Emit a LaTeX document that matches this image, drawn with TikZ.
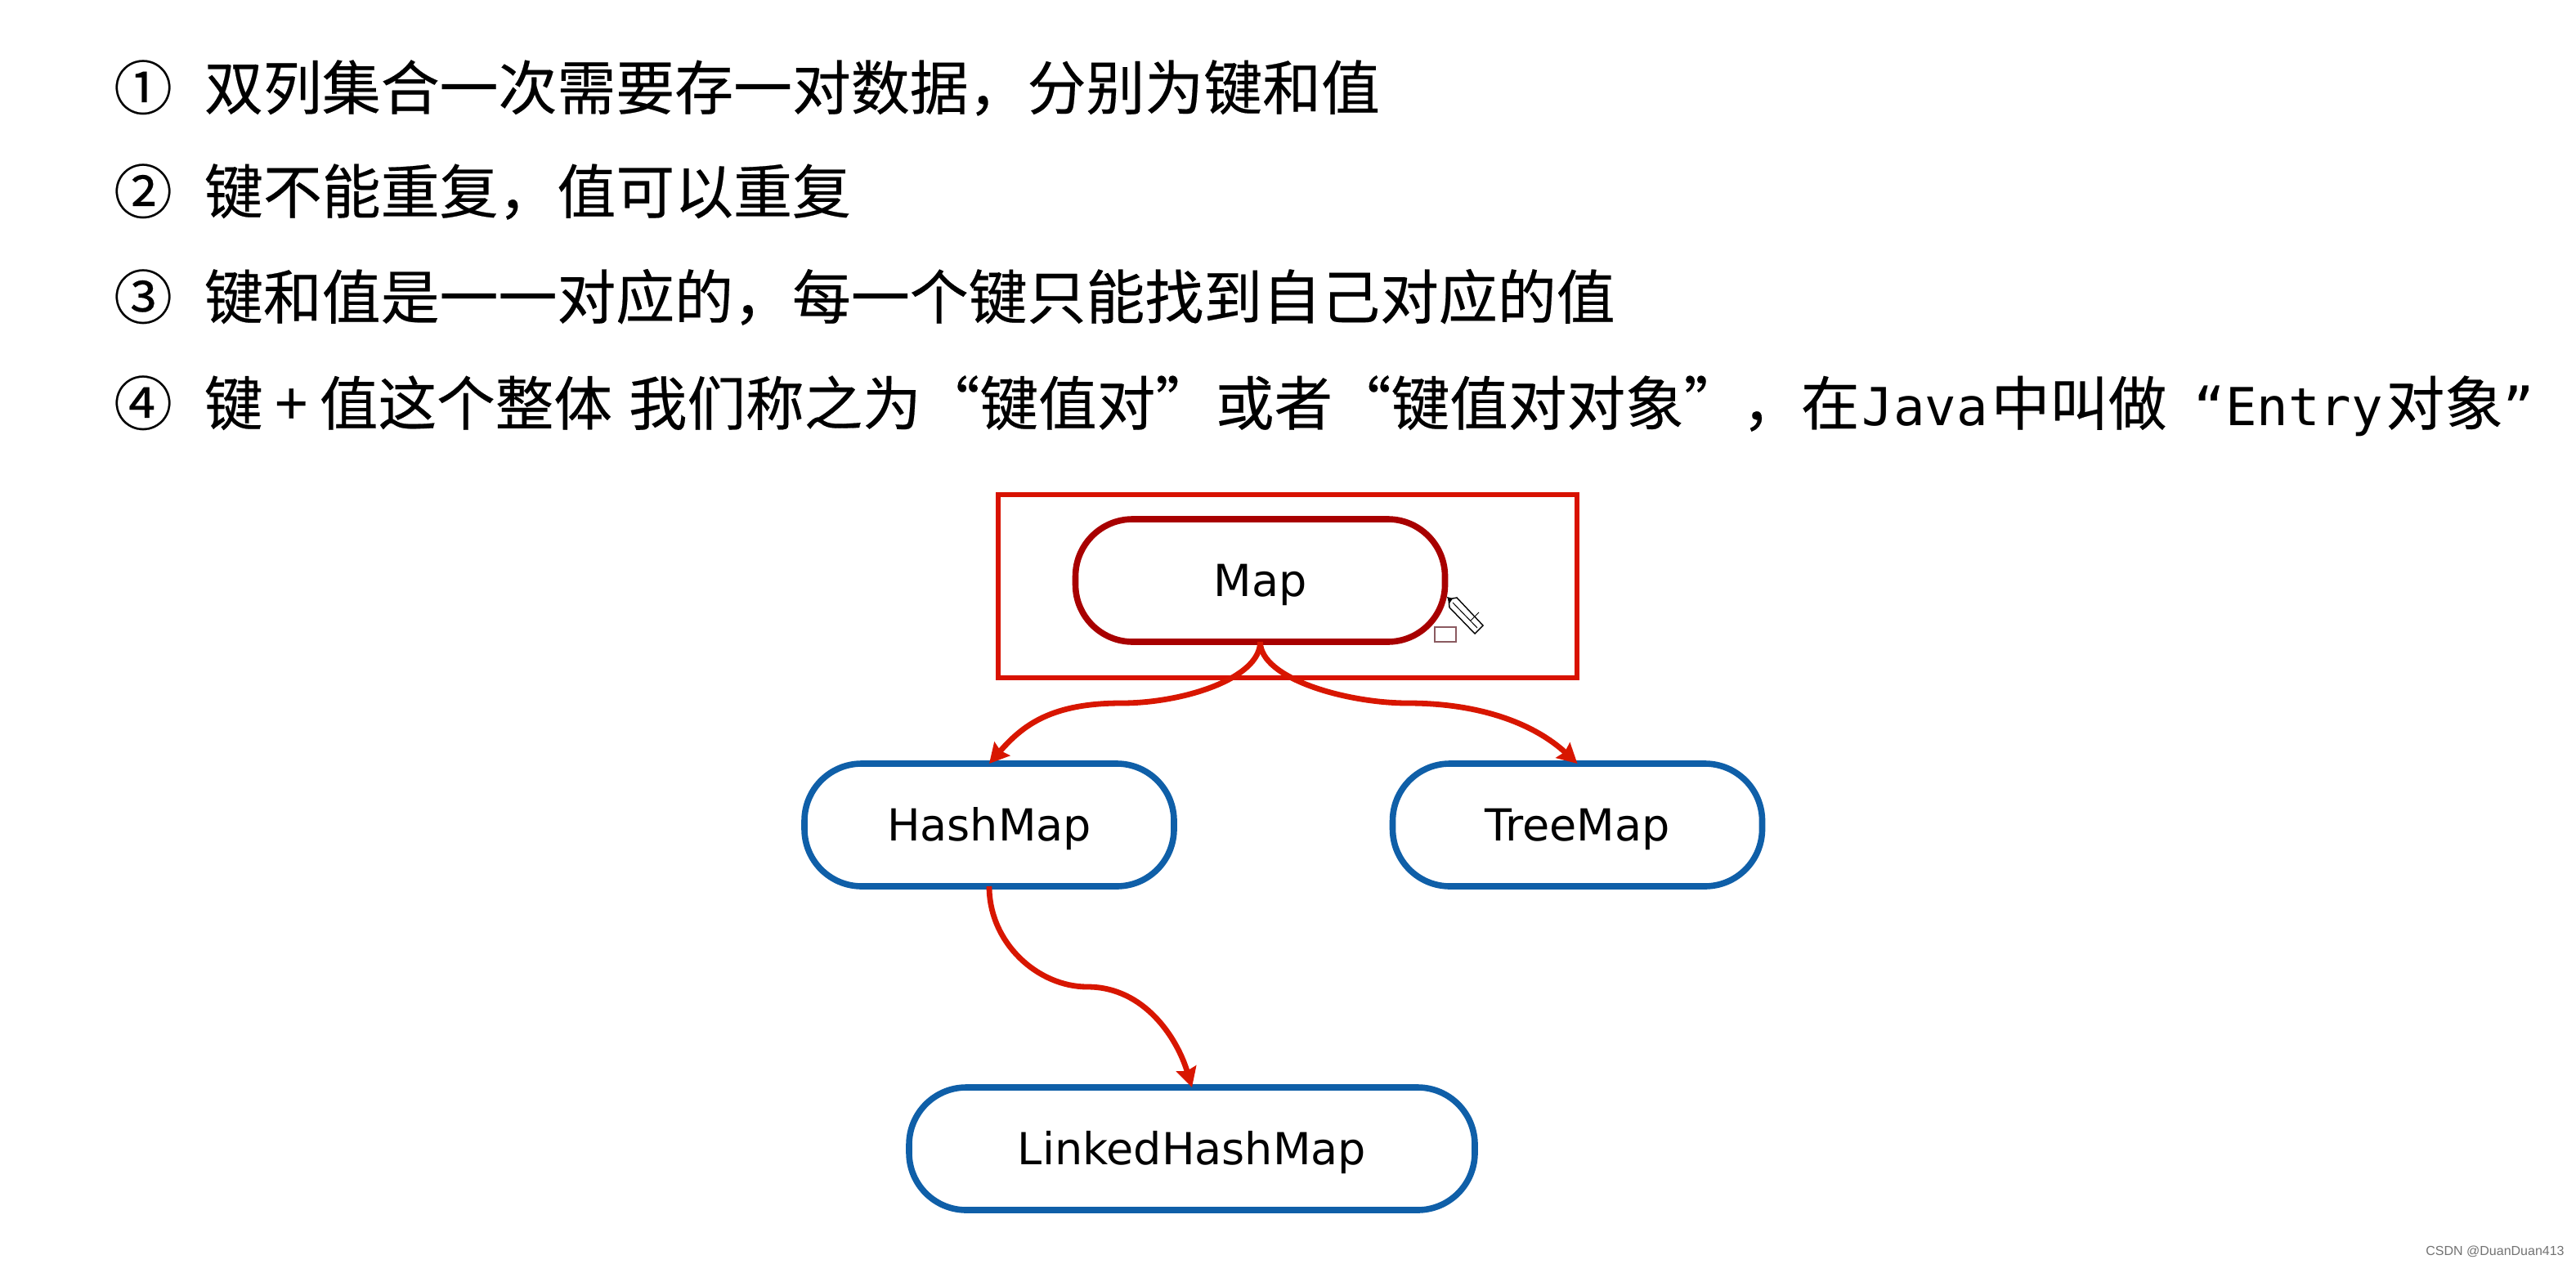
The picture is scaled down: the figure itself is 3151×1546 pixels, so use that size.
\documentclass[tikz,border=0pt]{standalone}
\usepackage{fontspec}
\setmainfont{DejaVu Sans}
\newfontfamily\cjk[FakeBold=0.3]{Noto Sans CJK SC}
\newfontfamily\mono{DejaVu Sans Mono}
\newfontfamily\wm{Liberation Sans}
\usetikzlibrary{arrows.meta}
\definecolor{boxred}{HTML}{D81200}
\definecolor{mapred}{HTML}{A80000}
\definecolor{edgered}{HTML}{D81600}
\definecolor{nodeblue}{HTML}{0F5FA8}
\definecolor{cursorbox}{HTML}{8A5A60}
\newcommand{\latin}[1]{{\mono\fontsize{32}{36}\selectfont #1}}
\tikzset{
  x=0.5pt,y=-0.5pt,
  textline/.style={anchor=base west,inner sep=0pt,outer sep=0pt,font=\cjk\fontsize{35.95}{40}\selectfont},
  longline/.style={anchor=base west,inner sep=0pt,outer sep=0pt,font=\cjk\fontsize{35.8}{40}\selectfont},
  numline/.style={anchor=base,inner sep=0pt,outer sep=0pt,font=\cjk\fontsize{35.8}{40}\selectfont},
  pill/.style={draw=nodeblue,line width=3.8pt,rectangle,rounded corners=35pt,minimum height=75pt,inner sep=0pt,outer sep=0pt,text height=24pt,text depth=4.3pt,font=\fontsize{27}{30}\selectfont,fill=white},
  link/.style={draw=edgered,line width=3.4pt,-{Stealth[length=12pt,width=12.5pt,inset=1.5pt]}},
}
\begin{document}
\begin{tikzpicture}
\useasboundingbox (0,0) rectangle (3151,1546);
\fill[white] (0,0) rectangle (3151,1546);
\node[numline] (n1) at (175,134) {①};
\node[numline] (n2) at (175,261) {②};
\node[numline] (n3) at (175,390) {③};
\node[numline] (n4) at (175,520) {④};
\node[textline] (l1) at (250,134) {双列集合一次需要存一对数据，分别为键和值};
\node[textline] (l2) at (250,261) {键不能重复，值可以重复};
\node[textline] (l3) at (250,390) {键和值是一一对应的，每一个键只能找到自己对应的值};
\node[longline] (l4) at (250,520) {键{\spaceskip=7.4pt\relax{} + }值这个整体{\spaceskip=10pt\relax{} }我们称之为“键值对”\kern1pt或者“键值对对象”，在\kern1.5pt\latin{Java}\kern2pt中叫做\kern16.5pt\latin{“Entry}\kern2pt对象\latin{”}};
\draw[boxred,line width=3.4pt] (1221,605) rectangle (1929,829);
\node[pill,draw=mapred,minimum width=226pt] (map) at (1541.5,710) {Map};
\node[pill,minimum width=226pt] (hash) at (1210,1009) {HashMap};
\node[pill,minimum width=226pt] (tree) at (1929.5,1009) {TreeMap};
\node[pill,minimum width=346pt] (linked) at (1458,1405) {LinkedHashMap};
\coordinate (ml) at (1372,860);
\coordinate (mr) at (1722,860);
\coordinate (mh) at (1330,1207);
\draw[link] (map.south) .. controls +(0,45) and +(75,0) .. (ml) .. controls +(-85,0) and +(42,-48) .. (hash.north);
\draw[link] (map.south) .. controls +(0,45) and +(-75,0) .. (mr) .. controls +(90,0) and +(-52,-48) .. (tree.north);
\draw[link] (hash.south) .. controls +(0,70) and +(-60,0) .. (mh) .. controls +(70,0) and +(-18,-60) .. (linked.north);
% pencil cursor
\draw[black,line width=0.7pt,fill=white] (1772,733) -- (1782,731) -- (1814,765) -- (1804,775) -- (1773,743) -- cycle;
\fill[black] (1770,730) -- (1777,732) -- (1773,738) -- cycle;
\draw[black,line width=0.5pt] (1777,737) -- (1807,768);
\draw[black,line width=0.5pt] (1799,759) -- (1809,749);
\draw[cursorbox,line width=0.9pt,fill=white] (1755,767) rectangle (1781,785);
\node[anchor=base east,inner sep=0pt,text=black!55,font=\wm\fontsize{8}{10}\selectfont] (mark) at (3137,1535) {CSDN @DuanDuan413};
\end{tikzpicture}
\end{document}
